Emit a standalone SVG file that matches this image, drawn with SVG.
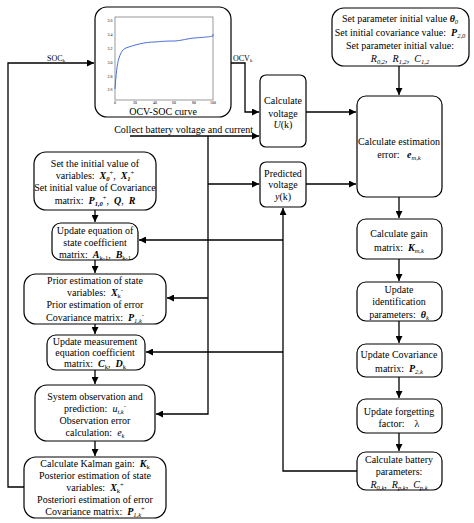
<svg xmlns="http://www.w3.org/2000/svg" width="474" height="523" viewBox="0 0 474 523">
<defs>
<marker id="ah" viewBox="0 0 10 10" refX="10" refY="5" markerWidth="8" markerHeight="7" markerUnits="userSpaceOnUse" orient="auto">
<path d="M0,0 L10,5 L0,10 z" fill="#000"/>
</marker>
</defs>
<style>
.box{fill:#fff;stroke:#000;stroke-width:1.2}
.t{font-family:"Liberation Serif","Times New Roman",serif;font-size:10px;fill:#000;text-anchor:middle}
.c{fill:none;stroke:#000;stroke-width:1.3}
.b{font-weight:bold;font-style:italic}
.i{font-style:italic}
.s{font-size:6.5px}
.tick{font-family:"Liberation Serif",serif;font-size:4px;fill:#000;text-anchor:middle}
.lbl{font-family:"Liberation Serif",serif;font-size:8px;fill:#000}
</style>
<rect width="474" height="523" fill="#fff"/>

<g id="connectors">
<path class="c" d="M24,487 H8 V63 H94" marker-end="url(#ah)"/>
<path class="c" d="M231,63 H245 V112 H259" marker-end="url(#ah)"/>
<path class="c" d="M130,136 H259" marker-end="url(#ah)"/>
<path class="c" d="M306,112 H356" marker-end="url(#ah)"/>
<path class="c" d="M399,66 V95" marker-end="url(#ah)"/>
<path class="c" d="M399,197 V218" marker-end="url(#ah)"/>
<path class="c" d="M399,259 V281" marker-end="url(#ah)"/>
<path class="c" d="M399,321 V343" marker-end="url(#ah)"/>
<path class="c" d="M399,377 V398" marker-end="url(#ah)"/>
<path class="c" d="M399,433 V451" marker-end="url(#ah)"/>
<path class="c" d="M306,184 H356" marker-end="url(#ah)"/>
<path class="c" d="M208,136 V414 H156" marker-end="url(#ah)"/>
<path class="c" d="M208,184 H259" marker-end="url(#ah)"/>
<path class="c" d="M208,298 H167" marker-end="url(#ah)"/>
<path class="c" d="M357,471 H283 V208" marker-end="url(#ah)"/>
<path class="c" d="M283,240 H139" marker-end="url(#ah)"/>
<path class="c" d="M283,352 H146" marker-end="url(#ah)"/>
<path class="c" d="M95,210 V222" marker-end="url(#ah)"/>
<path class="c" d="M95,260 V273" marker-end="url(#ah)"/>
<path class="c" d="M95,324 V334" marker-end="url(#ah)"/>
<path class="c" d="M95,370 V384" marker-end="url(#ah)"/>
<path class="c" d="M95,441 V456" marker-end="url(#ah)"/>
</g>
<text class="lbl" x="47" y="61">SOC<tspan font-size="5" dy="1">k</tspan></text>
<text class="lbl" x="233" y="61">OCV<tspan font-size="5" dy="1">k</tspan></text>
<text class="t" x="253" y="133" style="text-anchor:end">Collect battery voltage and current</text>

<g id="ocv-soc">
<rect class="box" x="95" y="7" width="136" height="110" rx="12"/>
<rect x="115" y="17" width="98" height="83" fill="none" stroke="#555" stroke-width="0.6"/>
<path d="M115,89 C116,75 117,64 119,58 C121,52 123,49 126,48 C134,45 145,42 155,42 C165,41 170,41 175,41 C185,40 190,38 195,38 C205,37 210,37 213,36 L213,34" fill="none" stroke="#4a6fd8" stroke-width="1"/>
<text class="tick" x="110" y="21.5">3.6</text>
<text class="tick" x="110" y="35.5">3.4</text>
<text class="tick" x="110" y="49.5">3.2</text>
<text class="tick" x="110" y="63.5">3.0</text>
<text class="tick" x="110" y="77.5">2.8</text>
<text class="tick" x="110" y="91">2.6</text>
<text class="tick" x="115" y="104">0</text>
<text class="tick" x="135" y="104">20</text>
<text class="tick" x="155" y="104">40</text>
<text class="tick" x="174" y="104">60</text>
<text class="tick" x="194" y="104">80</text>
<text class="tick" x="213" y="104">100</text>
<text class="t" x="163" y="114.5">OCV-SOC curve</text>
</g>

<g id="set-param">
<rect class="box" x="332" y="8" width="137" height="58" rx="12"/>
<text class="t" x="400" y="22">Set parameter initial value <tspan class="b">θ</tspan><tspan class="s i" dy="2">0</tspan></text>
<text class="t" x="400" y="36">Set initial covariance value:&#160; <tspan class="b">P</tspan><tspan class="s i" dy="2">2,0</tspan></text>
<text class="t" x="400" y="49">Set parameter initial value:</text>
<text class="t" x="400" y="62"><tspan class="i">R</tspan><tspan class="s i" dy="2">0,2</tspan><tspan dy="-2">,&#160;&#160;</tspan><tspan class="i">R</tspan><tspan class="s i" dy="2">1,2</tspan><tspan dy="-2">,&#160;&#160;</tspan><tspan class="i">C</tspan><tspan class="s i" dy="2">1,2</tspan></text>
</g>

<g id="calc-voltage">
<rect class="box" x="260" y="75" width="46" height="72" rx="6"/>
<text class="t" x="283" y="104">Calculate</text>
<text class="t" x="283" y="117">voltage</text>
<text class="t" x="283" y="128"><tspan class="i">U</tspan>(k)</text>
</g>

<g id="pred-voltage">
<rect class="box" x="260" y="162" width="46" height="45" rx="6"/>
<text class="t" x="283" y="177">Predicted</text>
<text class="t" x="283" y="188">voltage</text>
<text class="t" x="283" y="200"><tspan class="i">y</tspan>(k)</text>
</g>

<g id="est-error">
<rect class="box" x="357" y="96" width="85" height="101" rx="9"/>
<text class="t" x="399" y="145">Calculate estimation</text>
<text class="t" x="399" y="158">error:&#160;&#160; <tspan class="b">e</tspan><tspan class="s i" dy="2">m,k</tspan></text>
</g>

<g id="gain">
<rect class="box" x="357" y="219" width="85" height="40" rx="9"/>
<text class="t" x="399" y="237">Calculate gain</text>
<text class="t" x="399" y="251">matrix:&#160; <tspan class="b">K</tspan><tspan class="s i" dy="2">m,k</tspan></text>
</g>

<g id="ident">
<rect class="box" x="357" y="282" width="85" height="39" rx="9"/>
<text class="t" x="399" y="293">Update</text>
<text class="t" x="399" y="305">identification</text>
<text class="t" x="399" y="318">parameters:&#160; <tspan class="b">θ</tspan><tspan class="s i" dy="2">k</tspan></text>
</g>

<g id="cov">
<rect class="box" x="357" y="344" width="85" height="33" rx="9"/>
<text class="t" x="399" y="358">Update Covariance</text>
<text class="t" x="399" y="372">matrix:&#160; <tspan class="b">P</tspan><tspan class="s i" dy="2">2,k</tspan></text>
</g>

<g id="forget">
<rect class="box" x="357" y="399" width="85" height="34" rx="9"/>
<text class="t" x="399" y="415">Update forgetting</text>
<text class="t" x="399" y="427">factor:&#160;&#160;&#160; λ</text>
</g>

<g id="battery">
<rect class="box" x="357" y="452" width="85" height="38" rx="9"/>
<text class="t" x="399" y="463">Calculate battery</text>
<text class="t" x="399" y="475">parameters:</text>
<text class="t" x="399" y="488"><tspan class="i">R</tspan><tspan class="s i" dy="2">0,k</tspan><tspan dy="-2">,&#160;&#160;</tspan><tspan class="i">R</tspan><tspan class="s i" dy="2">p,k</tspan><tspan dy="-2">,&#160;&#160;</tspan><tspan class="i">C</tspan><tspan class="s i" dy="2">p,k</tspan></text>
</g>

<g id="set-init">
<rect class="box" x="34" y="152" width="122" height="58" rx="12"/>
<text class="t" x="95" y="167">Set the initial value of</text>
<text class="t" x="95" y="179">variables:&#160; <tspan class="b">X</tspan><tspan class="s b" dy="2">0</tspan><tspan class="s" dy="-6">+</tspan><tspan dy="4">,&#160; </tspan><tspan class="b">X</tspan><tspan class="s b" dy="2">1</tspan><tspan class="s" dy="-6">+</tspan></text>
<text class="t" x="95" y="191">Set initial value of Covariance</text>
<text class="t" x="95" y="204">matrix:&#160; <tspan class="b">P</tspan><tspan class="s b" dy="2">1,0</tspan><tspan class="s" dy="-6">+</tspan><tspan dy="4">,&#160; </tspan><tspan class="b">Q</tspan>,&#160; <tspan class="b">R</tspan></text>
</g>

<g id="update-state">
<rect class="box" x="52" y="223" width="86" height="37" rx="9"/>
<text class="t" x="95" y="234">Update equation of</text>
<text class="t" x="95" y="246">state coefficient</text>
<text class="t" x="95" y="258">matrix:&#160; <tspan class="b">A</tspan><tspan class="s" dy="2">k-1</tspan><tspan dy="-2">,&#160; </tspan><tspan class="b">B</tspan><tspan class="s" dy="2">k-1</tspan></text>
</g>

<g id="prior">
<rect class="box" x="24" y="274" width="142" height="50" rx="12"/>
<text class="t" x="95" y="284">Prior estimation of state</text>
<text class="t" x="95" y="296">variables:&#160; <tspan class="b">X</tspan><tspan class="s" dy="2">k</tspan><tspan class="s" dy="-6">-</tspan></text>
<text class="t" x="95" y="308">Prior estimation of error</text>
<text class="t" x="95" y="321">Covariance matrix:&#160; <tspan class="b">P</tspan><tspan class="s i" dy="2">1,k</tspan><tspan class="s" dy="-6">-</tspan></text>
</g>

<g id="update-meas">
<rect class="box" x="47" y="335" width="98" height="35" rx="9"/>
<text class="t" x="95" y="345">Update measurement</text>
<text class="t" x="95" y="356">equation coefficient</text>
<text class="t" x="95" y="367">matrix:&#160; <tspan class="b">C</tspan><tspan class="s" dy="2">k</tspan><tspan dy="-2">,&#160; </tspan><tspan class="b">D</tspan><tspan class="s" dy="2">k</tspan></text>
</g>

<g id="sys-obs">
<rect class="box" x="35" y="385" width="120" height="56" rx="12"/>
<text class="t" x="95" y="400">System observation and</text>
<text class="t" x="95" y="412">prediction:&#160; <tspan class="i">u</tspan><tspan class="s i" dy="2">t,k</tspan><tspan class="s" dy="-6">-</tspan></text>
<text class="t" x="95" y="424">Observation error</text>
<text class="t" x="95" y="436">calculation:&#160; <tspan class="i">e</tspan><tspan class="s i" dy="2">k</tspan></text>
</g>

<g id="kalman">
<rect class="box" x="24" y="457" width="142" height="61" rx="12"/>
<text class="t" x="95" y="467">Calculate Kalman gain:&#160; <tspan class="b">K</tspan><tspan class="s" dy="2">k</tspan></text>
<text class="t" x="95" y="479">Posterior estimation of state</text>
<text class="t" x="95" y="491">variables:&#160; <tspan class="b">X</tspan><tspan class="s" dy="2">k</tspan><tspan class="s" dy="-6">+</tspan></text>
<text class="t" x="95" y="503">Posteriori estimation of error</text>
<text class="t" x="95" y="515">Covariance matrix:&#160; <tspan class="b">P</tspan><tspan class="s i" dy="2">1,k</tspan><tspan class="s" dy="-6">+</tspan></text>
</g>
</svg>
